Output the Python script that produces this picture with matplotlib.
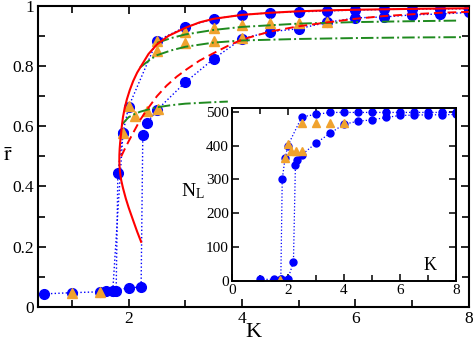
import numpy as np
import matplotlib
matplotlib.use('Agg')
from matplotlib import pyplot as plt
from matplotlib.ticker import MultipleLocator

plt.rcParams['font.family'] = ['Liberation Serif', 'DejaVu Serif']
plt.rcParams['mathtext.fontset'] = 'stix'

# Main panel: order parameter r vs coupling K

# sweep that jumps at K ~ 1.7
up_K = [0.5, 1.0, 1.5, 1.6, 1.72, 1.9, 2.0, 2.5, 3.0, 3.5, 4.0, 4.5, 5.0, 5.5, 6.0, 6.5, 7.0, 7.5, 8.0]
up_r = [0.043, 0.047, 0.05, 0.053, 0.053, 0.578, 0.665, 0.884, 0.93, 0.957, 0.97, 0.977, 0.98, 0.983,
        0.986, 0.988, 0.989, 0.99, 0.99]

# short segment through the point at K ~ 1.8
mid_K = [1.78, 1.81, 1.9]
mid_r = [0.053, 0.445, 0.578]

# sweep that jumps at K ~ 2.2
down_K = [1.72, 2.0, 2.22, 2.25, 2.32, 2.5, 3.0, 3.5, 4.0, 4.5, 5.0, 5.5, 6.0, 6.5, 7.0, 7.5, 8.0]
down_r = [0.053, 0.063, 0.066, 0.57, 0.61, 0.654, 0.746, 0.824, 0.891, 0.914, 0.924, 0.945, 0.96,
          0.963, 0.97, 0.973, 0.978]

tri_K = [1.0, 1.5, 1.9, 2.0, 2.11, 2.32, 2.52, 2.5, 2.5, 3.0, 3.0, 3.5, 3.5, 4.0, 4.0, 4.5, 5.0, 5.5]
tri_r = [0.047, 0.05, 0.578, 0.666, 0.634, 0.65, 0.656, 0.882, 0.85, 0.914, 0.877, 0.928, 0.884,
         0.936, 0.893, 0.942, 0.944, 0.945]

# theory, full line (unstable branch first, then the stable one)
th_K = [2.22, 2.15, 2.08, 2.0, 1.95, 1.9, 1.87, 1.85, 1.84, 1.836, 1.837, 1.842, 1.85, 1.865, 1.88,
        1.9, 1.93, 1.97, 2.02, 2.08, 2.15, 2.23, 2.35, 2.5, 2.7, 3.0, 3.25, 3.5, 4.0, 4.5, 5.0, 5.5,
        6.0, 7.0, 8.0]
th_r = [0.216, 0.25, 0.287, 0.33, 0.36, 0.395, 0.42, 0.445, 0.465, 0.485, 0.505, 0.525, 0.545, 0.572,
        0.6, 0.63, 0.66, 0.69, 0.72, 0.75, 0.778, 0.803, 0.84, 0.872, 0.9, 0.927, 0.945, 0.957, 0.97,
        0.977, 0.982, 0.985, 0.987, 0.99, 0.992]

# theory, dashed line
thd_K = [1.87, 1.92, 2.0, 2.1, 2.2, 2.32, 2.5, 2.67, 2.85, 3.03, 3.25, 3.5, 3.75, 4.0, 4.5, 5.0, 5.5,
         6.0, 6.5, 7.0, 7.5, 8.0]
thd_r = [0.50, 0.52, 0.55, 0.585, 0.62, 0.654, 0.70, 0.735, 0.765, 0.79, 0.818, 0.843, 0.867, 0.888,
         0.915, 0.932, 0.945, 0.957, 0.966, 0.972, 0.977, 0.98]

# dash-dot curves
g1_K = [1.88, 1.95, 2.0, 2.1, 2.2, 2.35, 2.5, 2.75, 3.0, 3.5, 3.75]
g1_r = [0.605, 0.62, 0.63, 0.64, 0.648, 0.656, 0.663, 0.67, 0.675, 0.68, 0.682]
g2_K = [2.2, 2.3, 2.4, 2.5, 2.75, 3.0, 3.5, 4.0, 5.0, 6.0, 7.0, 7.9]
g2_r = [0.795, 0.81, 0.824, 0.836, 0.852, 0.864, 0.878, 0.885, 0.89, 0.893, 0.895, 0.896]
g3_K = [2.5, 2.75, 3.0, 3.5, 4.0, 5.0, 6.0, 7.0, 7.8]
g3_r = [0.877, 0.893, 0.905, 0.92, 0.93, 0.941, 0.946, 0.949, 0.951]

# Inset: number of locked oscillators N_L vs K
in_up_K = [1.0, 1.5, 1.75, 1.8, 1.9, 2.0, 2.5, 3.0, 3.5, 4.0, 4.5, 5.0, 5.5, 6.0, 6.5, 7.0, 7.5, 8.0]
in_up_N = [5, 5, 5, 301, 362, 400, 485, 492, 498, 498, 498, 498, 498, 498, 498, 498, 498, 498]
in_down_K = [1.75, 2.0, 2.2, 2.27, 2.31, 2.5, 3.0, 3.5, 4.0, 4.5, 5.0, 5.5, 6.0, 6.5, 7.0, 7.5, 8.0]
in_down_N = [5, 6, 56, 342, 357, 373, 407, 436, 463, 472, 476, 483, 489, 490, 491, 491, 492]
in_tri_K = [1.72, 1.9, 2.0, 2.1, 2.3, 2.5, 2.5, 3.0, 3.5, 4.0]
in_tri_N = [3, 362, 405, 385, 385, 385, 467, 467, 467, 467]

blue = '#0000ff'
orange = '#f0a22e'
green = '#1f8a1f'
red = '#ff0000'

fig = plt.figure(figsize=(4.74, 3.44), dpi=100)
ax = fig.add_axes([0.080, 0.108, 0.909, 0.875])

for K, r in [(up_K, up_r), (mid_K, mid_r), (down_K, down_r)]:
    ax.plot(K, r, ':', color=blue, lw=1.0, marker='o', ms=7, mec=blue, mfc=blue, zorder=2)
ax.plot(tri_K, tri_r, '^', color=orange, ms=7.5, mec=orange, ls='none', zorder=3)

for K, r in [(g1_K, g1_r), (g2_K, g2_r), (g3_K, g3_r)]:
    ax.plot(K, r, '-.', color=green, lw=1.4, zorder=4)
ax.plot(thd_K, thd_r, '--', color=red, lw=1.4, dashes=(4.5, 2.5), zorder=5)
ax.plot(th_K, th_r, '-', color=red, lw=1.5, zorder=5)

ax.set_xlim(0.4, 8)
ax.set_ylim(0, 1)
ax.xaxis.set_major_locator(MultipleLocator(2))
ax.xaxis.set_minor_locator(MultipleLocator(1))
ax.yaxis.set_minor_locator(MultipleLocator(0.1))
ax.set_yticks([0, 0.2, 0.4, 0.6, 0.8, 1.0])
ax.set_yticklabels(['0', '0.2', '0.4', '0.6', '0.8', '1'])
ax.tick_params(which='both', direction='in', top=True, right=True, labelsize=12.5, width=1.2)
ax.tick_params(which='major', length=6, pad=3)
ax.tick_params(which='minor', length=5)
for s in ax.spines.values():
    s.set_linewidth(1.5)
ax.set_xlabel('K', fontsize=16, labelpad=-3)
ax.text(-0.082, 0.5, r'$\bar{\mathrm{r}}$', transform=ax.transAxes, fontsize=16,
        ha='left', va='center')

ins = fig.add_axes([0.489, 0.183, 0.473, 0.503])
ins.set_zorder(10)
ins.set_facecolor('white')
for K, N in [(in_up_K, in_up_N), (in_down_K, in_down_N)]:
    ins.plot(K, N, ':', color=blue, lw=0.9, marker='o', ms=5, mec=blue, mfc=blue)
ins.plot(in_tri_K, in_tri_N, '^', color=orange, ms=5.5, mec=orange, ls='none')
ins.set_xlim(0, 8)
ins.set_ylim(0, 511)
ins.xaxis.set_major_locator(MultipleLocator(2))
ins.xaxis.set_minor_locator(MultipleLocator(1))
ins.yaxis.set_major_locator(MultipleLocator(100))
ins.tick_params(which='both', direction='in', top=True, right=True, labelsize=11, width=1.1)
ins.tick_params(which='major', length=5, pad=2)
ins.tick_params(which='minor', length=4)
for s in ins.spines.values():
    s.set_linewidth(1.4)
ins.text(-0.225, 0.52, r'$\mathregular{N_L}$', transform=ins.transAxes, fontsize=14,
         ha='left', va='center')
ins.text(0.885, 0.09, 'K', transform=ins.transAxes, fontsize=13, ha='center', va='center')

fig.savefig('out.png', dpi=100)
